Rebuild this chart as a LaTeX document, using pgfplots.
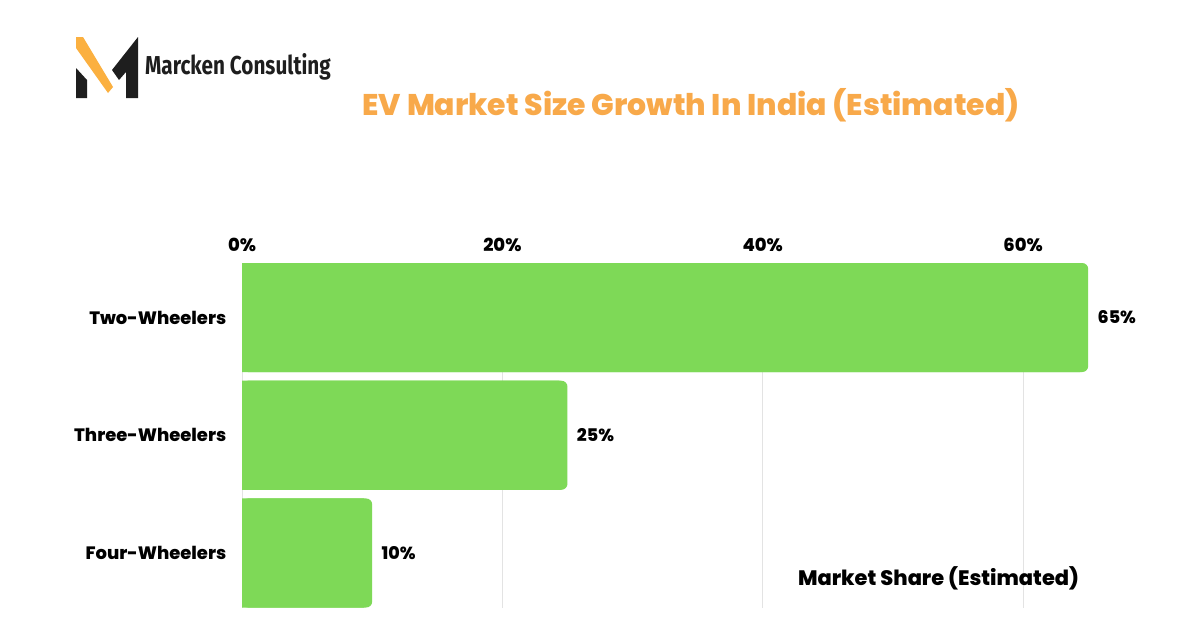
\documentclass[border=0pt]{standalone}
\usepackage{pgfplots}
\pgfplotsset{compat=1.18}
\usepackage{fontspec}
\setmainfont{Poppins}[BoldFont={* ExtraBold}]
\newfontfamily\logofont[FakeStretch=0.8]{Fira Sans}
\definecolor{bargreen}{HTML}{7ED957}
\definecolor{titleorange}{HTML}{F8A94A}
\definecolor{logoorange}{HTML}{FBB040}
\definecolor{logoblack}{HTML}{1E1E1E}
\definecolor{gridgray}{HTML}{E3E3E3}
\begin{document}
\begin{tikzpicture}
\fill[white] (0,0) rectangle (1200bp,-630bp);
% logo
\fill[logoorange] (76bp,-37bp) -- (83bp,-37bp) -- (113bp,-87bp) -- (108bp,-93bp) -- (76bp,-48bp) -- cycle;
\fill[logoblack] (76bp,-68bp) -- (87bp,-80bp) -- (87bp,-98bp) -- (76bp,-98bp) -- cycle;
\fill[logoblack] (138bp,-37bp) -- (138bp,-98bp) -- (126bp,-98bp) -- (126bp,-72bp) -- (119bp,-80bp) -- (112bp,-70bp) -- cycle;
\node[anchor=west, inner sep=0pt, text=logoblack, font=\logofont\bfseries\fontsize{26}{30}\selectfont] at (145bp,-67bp) {Marcken Consulting};
% title
\node[text=titleorange, inner sep=0pt, font=\bfseries\fontsize{30}{36}\selectfont] at (691bp,-105bp) {EV Market Size Growth In India (Estimated)};
\begin{axis}[
  at={(242bp,-607.5bp)}, anchor=south west,
  scale only axis, width=911.3bp, height=344.5bp,
  xmin=0, xmax=70, ymin=-0.463, ymax=2.463,
  y dir=reverse,
  xbar, bar width=0.926, bar shift=0pt,
  axis line style={draw=none},
  tick style={draw=none},
  xtick={0,20,40,60},
  xticklabel pos=upper,
  xticklabel={\pgfmathprintnumber{\tick}\%},
  /pgf/number format/assume math mode=true,
  xticklabel style={font=\bfseries\fontsize{18}{21}\selectfont, yshift=8bp},
  ytick={0,1,2},
  yticklabels={Two-Wheelers,Three-Wheelers,Four-Wheelers},
  yticklabel style={font=\bfseries\fontsize{18}{21}\selectfont, xshift=-8bp},
  xmajorgrids,
  major grid style={draw=gridgray, line width=0.9bp},
]
\addplot[fill=bargreen, draw=none, rounded corners=6bp,
  nodes near coords={\pgfmathprintnumber{\pgfplotspointmeta}\%},
  nodes near coords style={font=\bfseries\fontsize{17.5}{20}\selectfont, anchor=west, xshift=6bp},
  point meta=explicit symbolic]
  coordinates {(65,0) [65] (25,1) [25] (10,2) [10]};
\addplot[fill=bargreen, draw=none, xshift=-8bp, forget plot]
  coordinates {(65,0) (25,1) (10,2)};
\end{axis}
\node[font=\bfseries\fontsize{21}{25}\selectfont, inner sep=0pt] at (938.5bp,-578bp) {Market Share (Estimated)};
\end{tikzpicture}
\end{document}
